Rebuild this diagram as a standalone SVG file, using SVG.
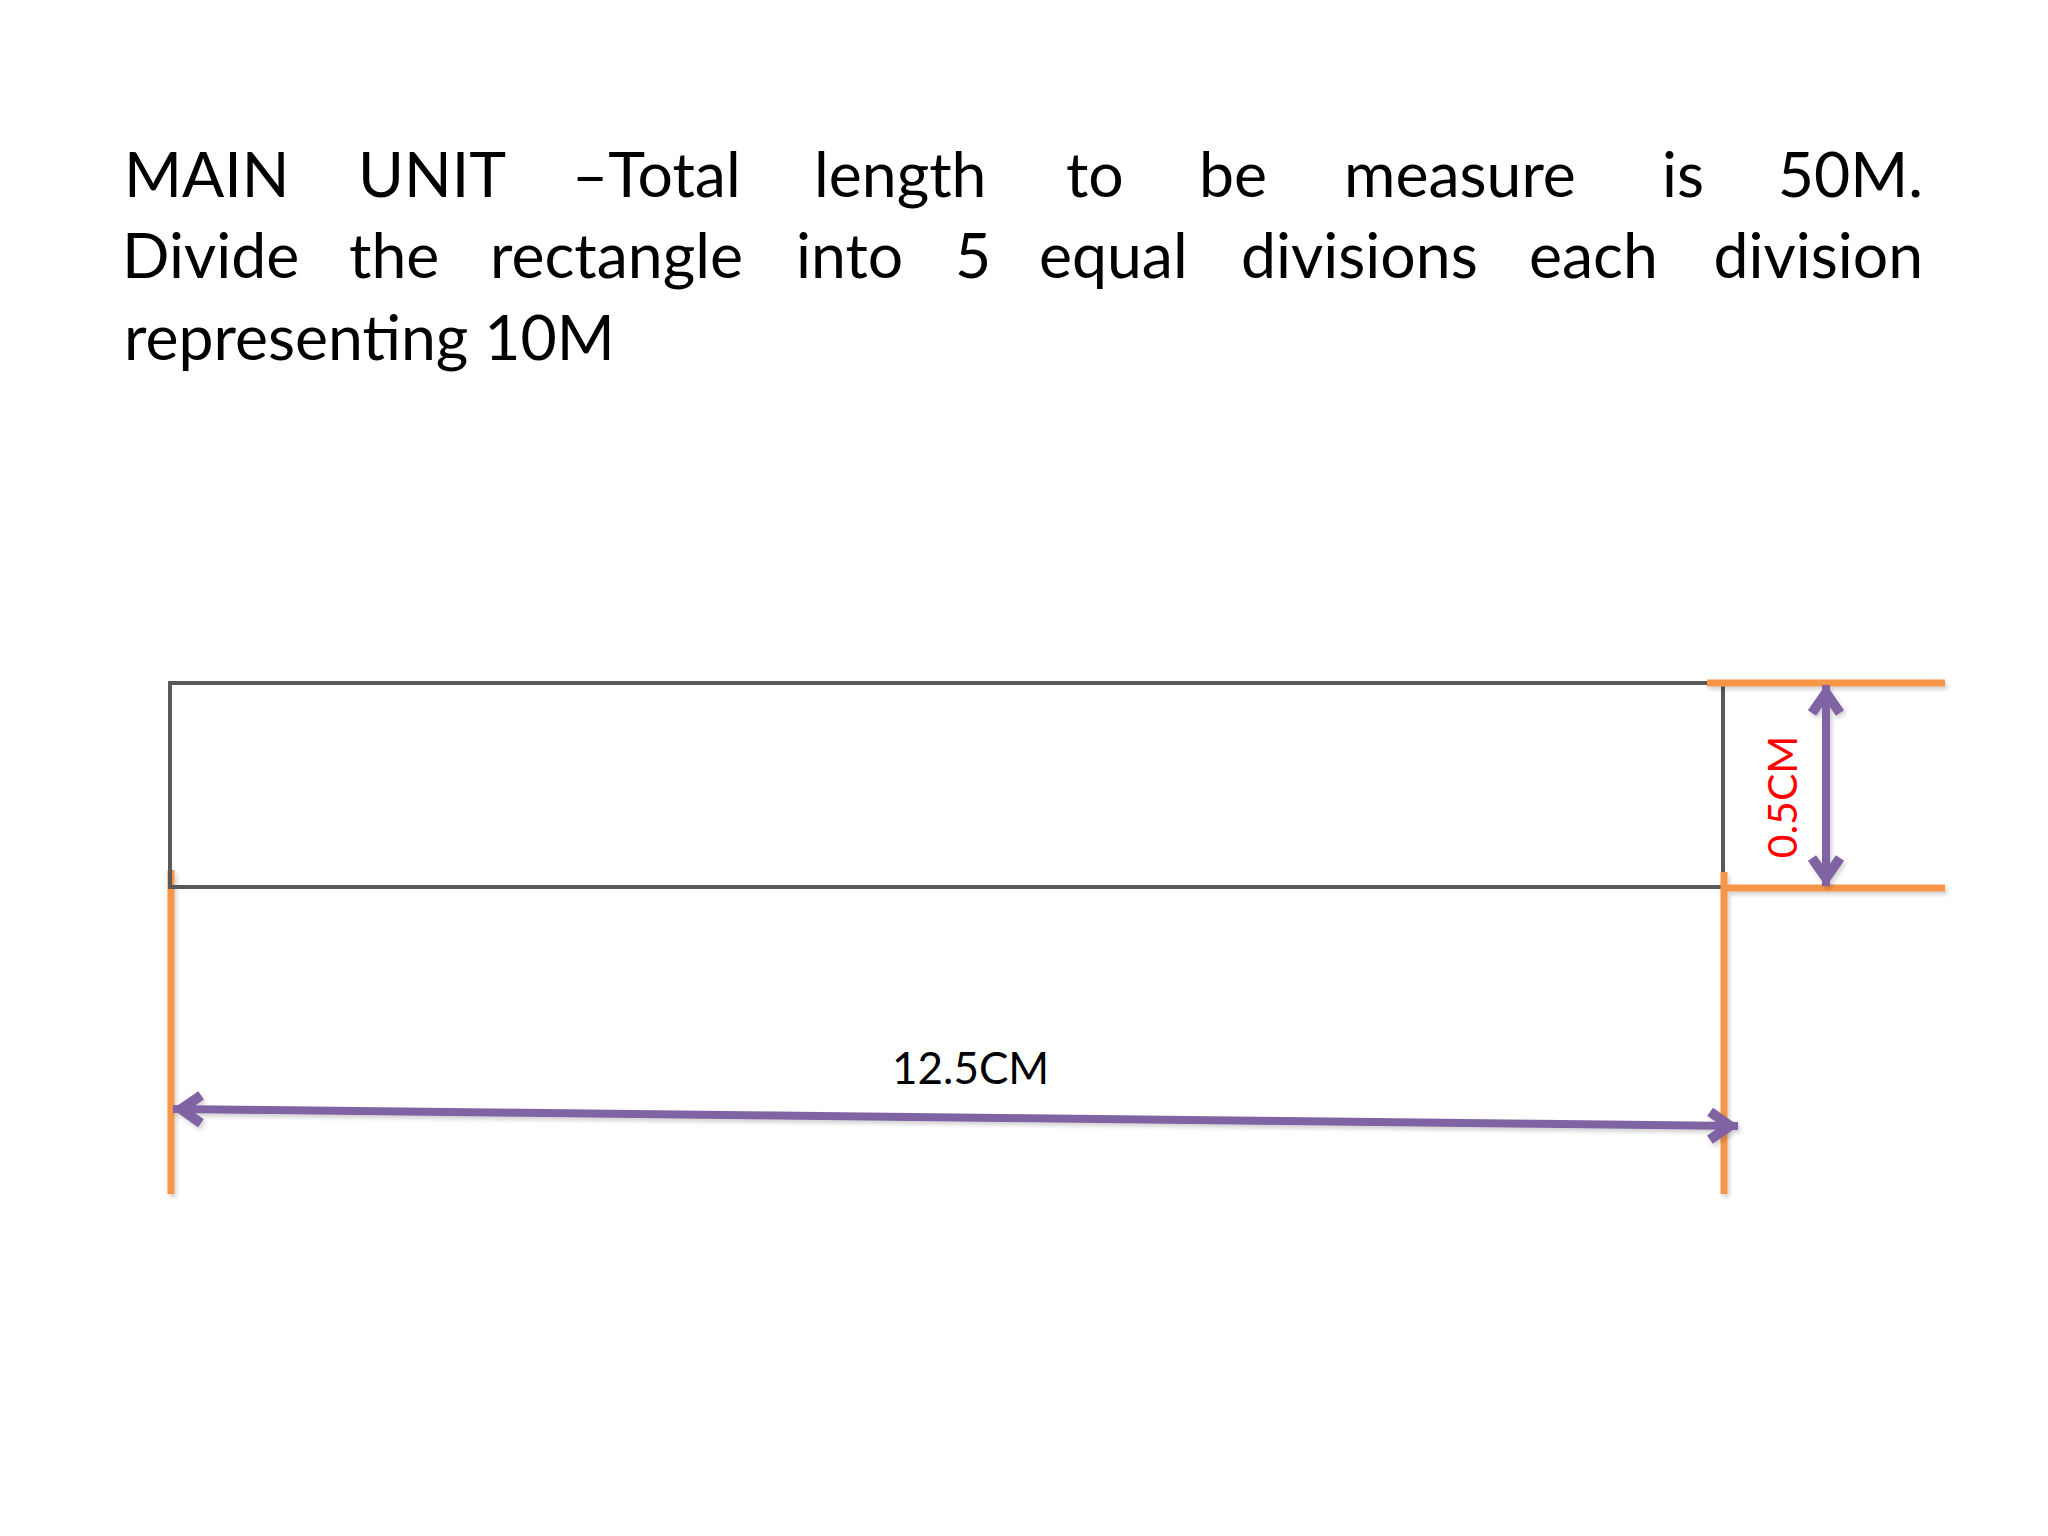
<svg xmlns="http://www.w3.org/2000/svg" width="2048" height="1536" viewBox="0 0 2048 1536">
<style>
.h{font-family:Lato,"Liberation Sans",sans-serif;font-size:62.5px;fill:#000}
.lbl{font-family:Lato,"Liberation Sans",sans-serif;font-size:44px;fill:#000}
.red{font-family:Lato,"Liberation Sans",sans-serif;font-size:41px;fill:#FF0000}
.or{stroke:#F79646;stroke-width:7;fill:none}
.pu{stroke:#8064A2;stroke-width:8;fill:none}
</style>
<defs>
<marker id="ah" markerUnits="userSpaceOnUse" viewBox="-40 -20 50 40" refX="0" refY="0" markerWidth="50" markerHeight="40" orient="auto-start-reverse" overflow="visible">
<path d="M -28 -14 L -8 0 L -28 14" stroke="#8064A2" stroke-width="10" fill="none" stroke-linejoin="miter" stroke-miterlimit="10"/>
</marker>
<filter id="sh" filterUnits="userSpaceOnUse" x="0" y="0" width="2048" height="1536">
<feDropShadow dx="2" dy="3" stdDeviation="2" flood-color="#000" flood-opacity="0.18"/>
</filter>
</defs>
<rect width="2048" height="1536" fill="#fff"/>
<g id="heading">
<text class="h" x="124" y="197">MAIN</text>
<text class="h" x="358" y="197">UNIT</text>
<text class="h" x="572" y="197">–Total</text>
<text class="h" x="814" y="197">length</text>
<text class="h" x="1066" y="197">to</text>
<text class="h" x="1199" y="197">be</text>
<text class="h" x="1344" y="197">measure</text>
<text class="h" x="1662" y="197">is</text>
<text class="h" x="1923" y="197" text-anchor="end">50M.</text>
<text class="h" x="122" y="278">Divide</text>
<text class="h" x="349" y="278">the</text>
<text class="h" x="490" y="278">rectangle</text>
<text class="h" x="796" y="278">into</text>
<text class="h" x="955" y="278">5</text>
<text class="h" x="1039" y="278">equal</text>
<text class="h" x="1241" y="278">divisions</text>
<text class="h" x="1529" y="278">each</text>
<text class="h" x="1923" y="278" text-anchor="end">division</text>
<text class="h" x="124" y="360">representing 10M</text>
</g>
<g id="extension-line-left" filter="url(#sh)">
<line class="or" x1="171" y1="870" x2="171" y2="1194"/>
</g>
<g id="rectangle">
<rect x="170" y="683" width="1553" height="204" fill="none" stroke="#595959" stroke-width="4"/>
</g>
<g id="extension-lines" filter="url(#sh)">
<line class="or" x1="1724" y1="872" x2="1724" y2="1194"/>
<line class="or" x1="1707" y1="683" x2="1945" y2="683"/>
<line class="or" x1="1723" y1="888" x2="1945" y2="888"/>
</g>
<g id="connectors" filter="url(#sh)">
<line class="pu" x1="1826" y1="685" x2="1826" y2="886" marker-start="url(#ah)" marker-end="url(#ah)"/>
<line class="pu" x1="173" y1="1109" x2="1738" y2="1126" marker-start="url(#ah)" marker-end="url(#ah)"/>
</g>
<g id="labels">
<text class="lbl" x="892" y="1084">12.5CM</text>
<text class="red" transform="translate(1797,797) rotate(-90)" text-anchor="middle">0.5CM</text>
</g>
</svg>
